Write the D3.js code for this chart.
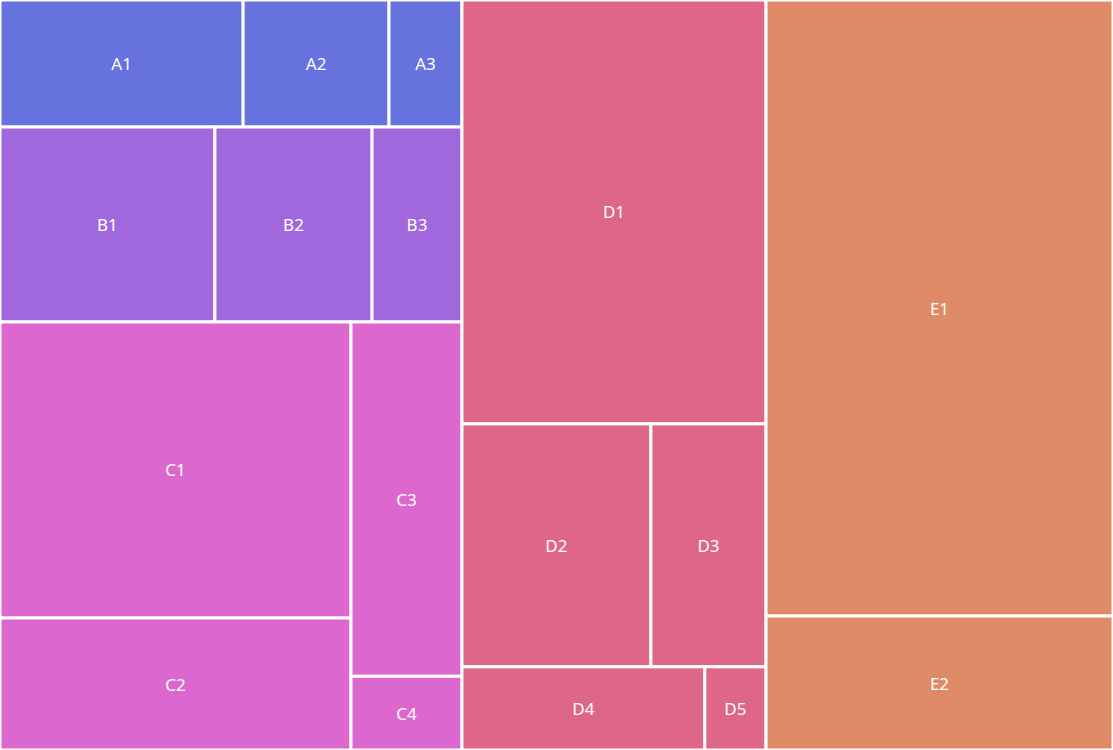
<!DOCTYPE html>
<html><head><meta charset="utf-8">
<script src="https://cdn.jsdelivr.net/npm/d3@7"></script>
<style>html,body{margin:0;padding:0;background:#fff;}svg{display:block;}</style>
</head><body>
<svg id="chart" width="1113" height="750"></svg>
<script>
const groups = ["A", "B", "C", "D", "E"];
const groupColors = ["#6673de", "#a068dc", "#dc68cf", "#de6789", "#de8a66"];
const leafNames = [
  ["A1", "A2", "A3"],
  ["B1", "B2", "B3"],
  ["C1", "C2", "C3", "C4"],
  ["D1", "D2", "D3", "D4", "D5"],
  ["E1", "E2"]
];
const leafValues = [
  [37.0, 22.2, 11.1],
  [50.2, 36.7, 21.0],
  [124.5, 55.5, 47.1, 9.8],
  [154.4, 55.0, 33.5, 24.2, 6.1],
  [256.1, 55.7]
];

const W = 1113, H = 750;
const data = {
  name: "root",
  children: groups.map((g, i) => ({
    name: g, gi: i,
    children: leafNames[i].map((n, j) => ({ name: n, gi: i, value: leafValues[i][j] }))
  }))
};
const root = d3.hierarchy(data).sum(d => d.value || 0);
d3.treemap().tile(d3.treemapSquarify).size([W, H]).round(false)(root);

const svg = d3.select("#chart");
const color = d3.scaleOrdinal().domain(d3.range(groups.length)).range(groupColors);
const leaves = svg.selectAll("g.leaf").data(root.leaves()).join("g").attr("class", "leaf");
leaves.append("rect")
  .attr("x", d => d.x0).attr("y", d => d.y0)
  .attr("width", d => d.x1 - d.x0).attr("height", d => d.y1 - d.y0)
  .attr("fill", d => color(d.data.gi))
  .attr("stroke", "#fff").attr("stroke-width", 3);
leaves.append("text")
  .attr("x", d => (d.x0 + d.x1) / 2).attr("y", d => (d.y0 + d.y1) / 2)
  .attr("text-anchor", "middle").attr("dominant-baseline", "central")
  .attr("fill", "#fff").attr("font-family", "'Noto Sans', sans-serif").attr("font-size", 17)
  .text(d => d.data.name);
</script>
</body></html>
